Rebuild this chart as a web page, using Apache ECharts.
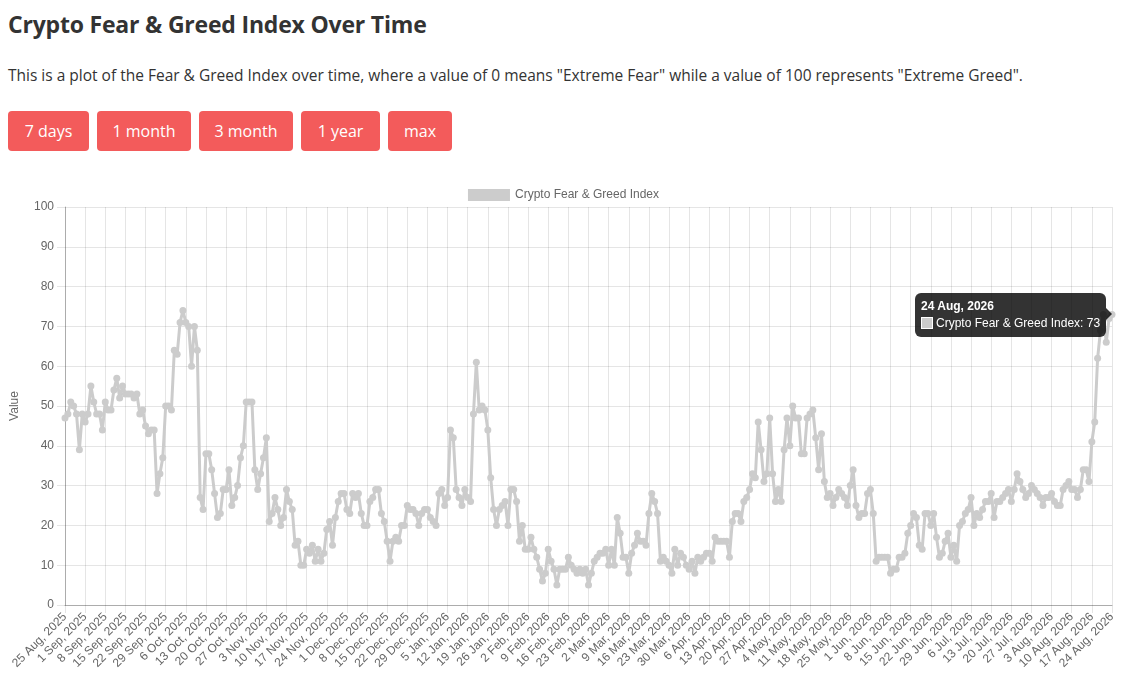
<!DOCTYPE html>
<html>
<head>
<meta charset="utf-8">
<title>Crypto Fear &amp; Greed Index Over Time</title>
<script src="https://cdn.jsdelivr.net/npm/echarts@6/dist/echarts.min.js"></script>
<style>
    body { margin: 0; background: #fff; width: 1127px; height: 688px; overflow: hidden; position: relative; font-family: "Open Sans", "Noto Sans", sans-serif; color: #333; }
    h2 { position: absolute; left: 8px; top: 9px; margin: 0; font-size: 23px; line-height: 30px; font-weight: 700; color: #333; letter-spacing: -0.2px; }
    p.intro { position: absolute; left: 8px; top: 63px; margin: 0; font-size: 15.5px; line-height: 24px; color: #333; }
    .btns { position: absolute; left: 8px; top: 111px; }
    .btns a { float: left; height: 40px; line-height: 40px; margin-right: 8px; background: #f35b5b; color: #fff; border-radius: 4px; text-align: center; font-size: 16px; text-decoration: none; }
    #chart { position: absolute; left: 0; top: 170px; width: 1127px; height: 518px; }
</style>
</head>
<body>
<h2>Crypto Fear &amp; Greed Index Over Time</h2>
<p class="intro">This is a plot of the Fear &amp; Greed Index over time, where a value of 0 means "Extreme Fear" while a value of 100 represents "Extreme Greed".</p>
<div class="btns">
    <a style="width:81px">7 days</a>
    <a style="width:94px">1 month</a>
    <a style="width:94px">3 month</a>
    <a style="width:79px">1 year</a>
    <a style="width:64px">max</a>
</div>
<div id="chart"></div>
<script>
var seriesName = 'Crypto Fear & Greed Index';
var monthNames = ['Jan', 'Feb', 'Mar', 'Apr', 'May', 'Jun', 'Jul', 'Aug', 'Sep', 'Oct', 'Nov', 'Dec'];
//first day shown, 25 Aug 2025 (month is 0 based)
var firstDay = [2025, 7, 25];
//daily index values, one row per week
var fgIndex = [
    47, 48, 51, 50, 48, 39, 48,
    46, 48, 55, 51, 48, 48, 44,
    51, 49, 49, 54, 57, 52, 55,
    53, 53, 53, 52, 53, 48, 49,
    45, 43, 44, 44, 28, 33, 37,
    50, 50, 49, 64, 63, 71, 74,
    71, 70, 60, 70, 64, 27, 24,
    38, 38, 34, 28, 22, 23, 29,
    29, 34, 25, 27, 30, 37, 40,
    51, 51, 51, 34, 29, 33, 37,
    42, 21, 23, 27, 24, 20, 22,
    29, 26, 24, 15, 16, 10, 10,
    14, 13, 15, 11, 14, 11, 13,
    19, 21, 15, 22, 26, 28, 28,
    24, 23, 28, 27, 28, 23, 20,
    20, 26, 27, 29, 29, 23, 21,
    16, 11, 16, 17, 16, 20, 20,
    25, 24, 24, 23, 20, 23, 24,
    24, 22, 21, 20, 28, 29, 25,
    27, 44, 42, 29, 27, 25, 29,
    27, 26, 48, 61, 49, 50, 49,
    44, 32, 24, 20, 24, 25, 26,
    20, 29, 29, 26, 16, 20, 14,
    14, 17, 14, 12, 9, 6, 8,
    14, 11, 9, 5, 9, 9, 9,
    12, 10, 9, 8, 9, 8, 9,
    5, 8, 11, 12, 13, 13, 14,
    10, 14, 10, 22, 18, 12, 12,
    8, 13, 15, 18, 16, 16, 15,
    23, 28, 26, 23, 11, 12, 11,
    10, 8, 14, 10, 13, 12, 10,
    9, 11, 8, 12, 11, 12, 13,
    13, 11, 17, 16, 16, 16, 16,
    12, 21, 23, 23, 21, 26, 27,
    29, 33, 32, 46, 39, 31, 33,
    47, 33, 26, 29, 26, 39, 47,
    40, 50, 47, 47, 38, 38, 47,
    48, 49, 42, 34, 43, 31, 27,
    28, 25, 27, 29, 28, 27, 25,
    30, 34, 25, 22, 23, 23, 28,
    29, 23, 11, 12, 12, 12, 12,
    8, 9, 9, 12, 12, 13, 18,
    20, 23, 22, 15, 14, 23, 23,
    20, 23, 17, 12, 13, 16, 18,
    12, 15, 11, 20, 21, 23, 24,
    27, 20, 23, 22, 24, 26, 26,
    28, 22, 26, 26, 27, 28, 29,
    26, 29, 33, 31, 29, 27, 28,
    30, 29, 28, 27, 25, 27, 27,
    28, 26, 25, 25, 29, 30, 31,
    29, 29, 27, 29, 34, 34, 31,
    41, 46, 62, 69, 73, 66, 72,
    73
];
var labelEvery = 7;
var chartFont = '"Liberation Sans", Arial, sans-serif';

function buildDays() {
    var out = [];
    for (var i = 0; i < fgIndex.length; i++) {
        var d = new Date(Date.UTC(firstDay[0], firstDay[1], firstDay[2] + i));
        out.push(d.getUTCDate() + ' ' + monthNames[d.getUTCMonth()] + ', ' + d.getUTCFullYear());
    }
    return out;
}

var days = buildDays();
var chart = echarts.init(document.getElementById('chart'));

chart.setOption({
    animation: false,
    textStyle: { fontFamily: chartFont },
    grid: { left: 65, right: 15, top: 37, bottom: 83 },
    legend: {
        top: 14,
        left: 'center',
        icon: 'rect',
        itemWidth: 42,
        itemHeight: 12,
        itemGap: 10,
        selectedMode: false,
        textStyle: { color: '#666', fontSize: 12, fontFamily: chartFont },
        data: [seriesName]
    },
    tooltip: {
        trigger: 'item',
        triggerOn: 'none',
        alwaysShowContent: true,
        transitionDuration: 0,
        backgroundColor: 'rgba(0,0,0,0.8)',
        borderWidth: 0,
        padding: [5, 6],
        extraCssText: 'border-radius:6px;box-shadow:none;overflow:visible;',
        textStyle: { color: '#fff', fontSize: 12, fontFamily: chartFont },
        position: function () {
            return [915, 123];
        },
        formatter: function (p) {
            return '<div style="font-weight:bold;line-height:17px">' + p.name + '</div>' +
                '<div style="line-height:17px"><span style="display:inline-block;width:10px;height:10px;background:#ccc;border:1px solid #fff;vertical-align:-2px;margin-right:3px"></span>' +
                p.seriesName + ': ' + p.value + '</div>' +
                '<span style="position:absolute;right:-6px;top:15px;width:0;height:0;border-top:6px solid transparent;border-bottom:6px solid transparent;border-left:6px solid rgba(0,0,0,0.8)"></span>';
        }
    },
    xAxis: {
        type: 'category',
        boundaryGap: false,
        data: days,
        axisLine: { lineStyle: { color: 'rgba(0,0,0,0.25)' } },
        axisTick: { show: true, interval: labelEvery - 1, length: 8, lineStyle: { color: 'rgba(0,0,0,0.1)' } },
        axisLabel: { interval: labelEvery - 1, rotate: 45, margin: 10, color: '#666', fontSize: 12, fontFamily: chartFont },
        splitLine: { show: true, interval: labelEvery - 1, lineStyle: { color: 'rgba(0,0,0,0.1)' } }
    },
    yAxis: {
        type: 'value',
        min: 0,
        max: 100,
        interval: 10,
        name: 'Value',
        nameLocation: 'middle',
        nameGap: 44,
        nameTextStyle: { color: '#666', fontSize: 12, fontFamily: chartFont },
        axisLine: { show: true, lineStyle: { color: 'rgba(0,0,0,0.25)' } },
        axisTick: { show: true, length: 8, lineStyle: { color: 'rgba(0,0,0,0.1)' } },
        axisLabel: { margin: 11, color: '#666', fontSize: 12, fontFamily: chartFont },
        splitLine: { show: true, lineStyle: { color: 'rgba(0,0,0,0.1)' } }
    },
    series: [{
        name: seriesName,
        type: 'line',
        data: fgIndex,
        color: '#cccccc',
        symbol: 'circle',
        symbolSize: 7,
        showAllSymbol: true,
        lineStyle: { width: 3, color: '#cccccc' },
        itemStyle: { color: '#cccccc' },
        emphasis: { disabled: true }
    }]
});

chart.dispatchAction({ type: 'showTip', seriesIndex: 0, dataIndex: fgIndex.length - 1 });
</script>
</body>
</html>
